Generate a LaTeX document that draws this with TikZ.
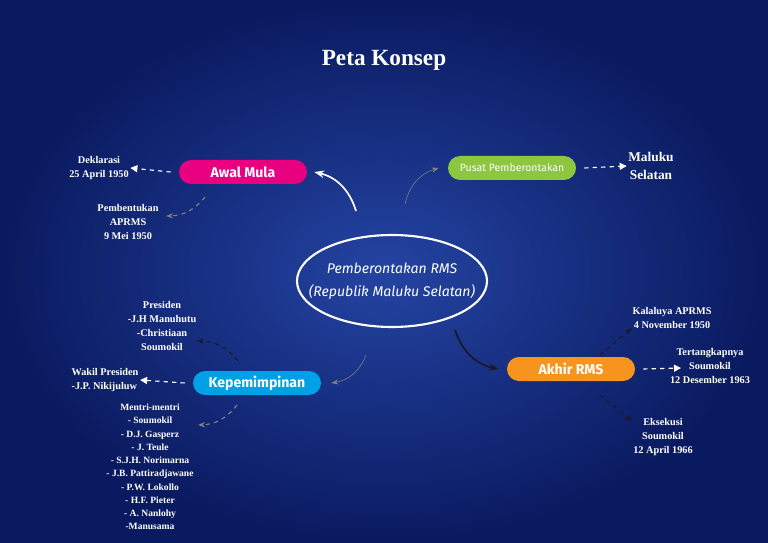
\documentclass[tikz,border=0pt]{standalone}
\usepackage{fontspec}
\setmainfont{Liberation Serif}
\newfontfamily\boxfont{Fira Sans}
\usepackage{tikz}
\usetikzlibrary{arrows.meta,shapes.geometric}

\definecolor{bgin}{RGB}{36,68,162}
\definecolor{bgout}{RGB}{10,26,96}
\definecolor{awal}{RGB}{232,0,128}
\definecolor{pusat}{RGB}{141,198,63}
\definecolor{pimpin}{RGB}{0,160,230}
\definecolor{akhir}{RGB}{247,148,30}
\definecolor{darkline}{RGB}{25,25,40}

\begin{document}
\begin{tikzpicture}[x=0.025cm, y=-0.025cm,
    topic/.style={rounded corners=12*0.025cm, minimum width=128*0.025cm, minimum height=24*0.025cm, text=white, font=\boxfont\bfseries\fontsize{10}{12}\selectfont, inner sep=0pt},
    info/.style={text=white, font=\bfseries\fontsize{7.3}{9.8}\selectfont, align=center, inner sep=1pt},
    wdash/.style={white, dashed, thick, -{Triangle[length=5pt,width=5pt]}},
    ddash/.style={darkline, dashed, thick, -{Stealth[length=5pt]}},
    gdash/.style={gray, dashed, thick, -{Stealth[length=5pt]}}]
    \useasboundingbox (0,0) rectangle (768,543);
    \shade[inner color=bgin, outer color=bgout] (0,0) rectangle (768,543);
    \node[text=white, font=\bfseries\fontsize{16.5}{18}\selectfont] (title) at (384,60) {Peta Konsep};
    % pusat
    \node[text=white, font=\boxfont\itshape\fontsize{10}{16}\selectfont, align=center] (rms) at (392,281) {Pemberontakan RMS\\(Republik Maluku Selatan)};
    \draw[white, line width=1.5pt] (rms.center) ellipse [x radius=95, y radius=46];
    \node[topic, fill=awal] (awal) at (243,172) {Awal Mula};
    \node[topic, fill=pusat, font=\boxfont\fontsize{7.5}{9}\selectfont] (pusat) at (512,168) {Pusat Pemberontakan};
    \node[topic, fill=pimpin] (pimpin) at (257,383) {Kepemimpinan};
    \node[topic, fill=akhir] (akhir) at (571,369) {Akhir RMS};
    \coordinate (r1) at (356,211);
    \coordinate (r2) at (405,204);
    \coordinate (r3) at (455,330);
    \coordinate (r4) at (366,355);
    \draw[white, line width=1.2pt, -{Stealth[length=7pt]}] (r1) to[bend right=30] ([xshift=7*0.025cm]awal.east);
    \draw[gray, -{Stealth[length=5pt]}] (r2) to[bend left=30] ([xshift=-9*0.025cm]pusat.west);
    \draw[darkline, line width=1.2pt, -{Stealth[length=7pt]}] (r3) to[bend right=30] ([xshift=-8*0.025cm]akhir.west);
    \draw[gray, -{Stealth[length=5pt]}] (r4) to[bend left=30] ([xshift=10*0.025cm]pimpin.east);
    % awal mula
    \node[info] (dekl) at (99,168) {Deklarasi\\25 April 1950};
    \node[info] (aprms) at (128,222) {Pembentukan\\APRMS\\9 Mei 1950};
    \coordinate (a1) at (205,197);
    \coordinate (a2) at (166,216);
    \draw[wdash] ([xshift=-8*0.025cm]awal.west) -- (dekl.east);
    \draw[gdash] (a1) to[bend left=25] (a2);
    % pusat
    \node[info, font=\bfseries\fontsize{9.5}{12.5}\selectfont] (maluku) at (651,166) {Maluku\\Selatan};
    \draw[wdash] ([xshift=8*0.025cm]pusat.east) -- (maluku.west);
    % kepemimpinan
    \node[info] (pres) at (162,326) {Presiden\\-J.H Manuhutu\\-Christiaan\\Soumokil};
    \node[info, align=left] (wakil) at (105,380) {Wakil Presiden\\-J.P. Nikijuluw};
    \node[info, font=\bfseries\fontsize{6.8}{9.4}\selectfont] (mentri) at (150,467) {Mentri-mentri\\- Soumokil\\- D.J. Gasperz\\- J. Teule\\- S.J.H. Norimarna\\- J.B. Pattiradjawane\\- P.W. Lokollo\\- H.F. Pieter\\- A. Nanlohy\\-Manusama};
    \coordinate (k1) at (238,361);
    \coordinate (k4) at (197,341);
    \coordinate (k2) at (237,405);
    \coordinate (k3) at (198,425);
    \draw[ddash] (k1) to[bend right=25] (k4);
    \draw[wdash] ([xshift=-8*0.025cm]pimpin.west) -- (wakil.east);
    \draw[gdash] (k2) to[bend left=25] (k3);
    % akhir
    \node[info] (kala) at (672,318) {Kalaluya APRMS\\4 November 1950};
    \node[info] (tangkap) at (710,366) {Tertangkapnya\\Soumokil\\12 Desember 1963};
    \node[info] (eksek) at (663,437) {Eksekusi\\Soumokil\\12 April 1966};
    \coordinate (h1) at (600,355);
    \coordinate (h2) at (632,328);
    \coordinate (h3) at (600,395);
    \coordinate (h4) at (632,421);
    \coordinate (h5) at (681,368);
    \draw[ddash] (h1) -- (h2);
    \draw[wdash] ([xshift=8*0.025cm]akhir.east) -- (h5);
    \draw[ddash] (h3) -- (h4);
\end{tikzpicture}
\end{document}
